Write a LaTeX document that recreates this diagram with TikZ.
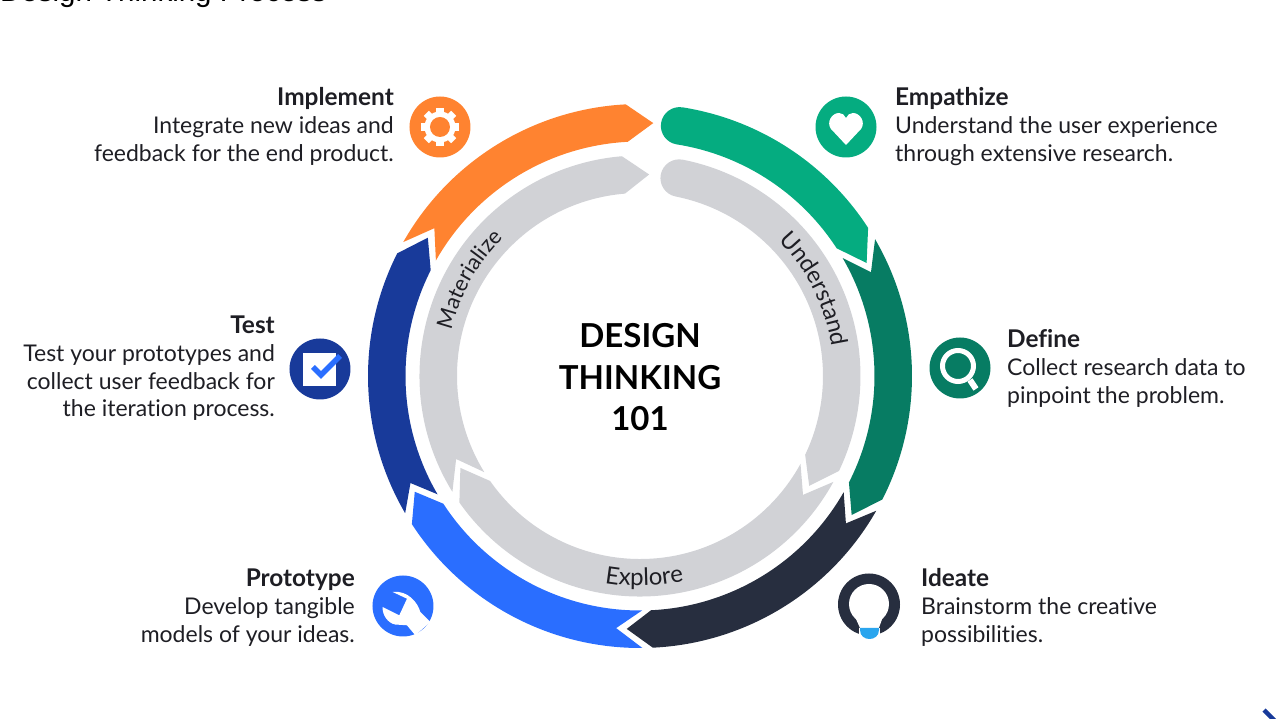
\documentclass[tikz,border=0pt]{standalone}
\usepackage{fontspec}
\usetikzlibrary{decorations.text}
\setmainfont[Ligatures=NoCommon]{Lato}
\newfontfamily\titlefont{Liberation Sans}
\definecolor{cOrange}{HTML}{FF8330}
\definecolor{cGreen}{HTML}{05AC80}
\definecolor{cDeep}{HTML}{077C63}
\definecolor{cDark}{HTML}{272E3F}
\definecolor{cBlue}{HTML}{2A6EFF}
\definecolor{cNavy}{HTML}{183A9A}
\definecolor{cGray}{HTML}{D1D2D6}
\definecolor{cBulb}{HTML}{2AA5EE}
\definecolor{cInk}{HTML}{1E1E24}
\newcommand{\seg}[7]{% colour, Ro, Ri, tail, notch, shoulder, tip
  \pgfmathsetmacro{\Rm}{(#2+#3)/2}
  \fill[#1] (#4:#2pt) arc[start angle=#4,end angle=#6,radius=#2pt] -- (#7:\Rm pt) -- (#6:#3pt)
    arc[start angle=#6,end angle=#4,radius=#3pt] -- (#5:\Rm pt) -- cycle;}
\newcommand{\capseg}[6]{% colour, Ro, Ri, start, shoulder, tip
  \pgfmathsetmacro{\Rm}{(#2+#3)/2}
  \pgfmathsetmacro{\Rc}{(#2-#3)/2}
  \pgfmathsetmacro{\Ab}{#4+180}
  \fill[#1] (#4:#2pt) arc[start angle=#4,end angle=#5,radius=#2pt] -- (#6:\Rm pt) -- (#5:#3pt)
    arc[start angle=#5,end angle=#4,radius=#3pt]
    arc[start angle=\Ab,end angle=#4,radius=\Rc pt] -- cycle;}
\newcommand{\curveU}{\fontsize{23.5}{24}\selectfont\color{cInk}}
\newcommand{\curveM}{\fontsize{22}{24}\selectfont\color{cInk}}
\newcommand{\curveE}{\fontsize{24}{24}\selectfont\color{cInk}}
\tikzset{
  head/.style={font=\fontsize{24.4}{27}\selectfont\bfseries,text=cInk,inner sep=0pt},
  descR/.style={font=\fontsize{23}{27.6}\selectfont,text=cInk,inner sep=0pt,align=right,anchor=north east},
  descL/.style={font=\fontsize{23}{27.6}\selectfont,text=cInk,inner sep=0pt,align=left,anchor=north west},
  big/.style={font=\fontsize{33}{42}\selectfont\bfseries,text=black,inner sep=0pt,align=center},
  curve/.style={decorate},
}
\begin{document}
\begin{tikzpicture}[x=1pt,y=1pt]
\useasboundingbox (-640pt,-343pt) rectangle (640pt,376pt);
\clip (-640pt,-343pt) rectangle (640pt,376pt);
% gray ring
\capseg{cGray}{220.5}{183}{78.8}{-25.5}{-33}
\seg{cGray}{220.5}{183}{-28.7}{-36.1}{-145}{-152.9}
\seg{cGray}{220.5}{183}{-148.3}{-155.7}{-265.3}{-272.6}
% colour ring
\seg{cOrange}{272}{234.5}{150.5}{144.3}{93}{87}
\capseg{cGreen}{272}{234.5}{81}{33}{26.5}
\seg{cDeep}{272}{234.5}{30.2}{24.2}{-27}{-33.3}
\seg{cDark}{272}{234.5}{-29.7}{-35.6}{-87.3}{-93}
\seg{cBlue}{272}{234.5}{-89.5}{-95.4}{-147}{-152.8}
\seg{cNavy}{272}{234.5}{-149.7}{-155}{-206.8}{-213.1}
% ring labels
\path[curve,decoration={text along path,text align=center,text={|\curveU|Understand}}]
  (59:194pt) arc[start angle=59,end angle=-6,radius=194pt];
\path[curve,decoration={text along path,text align=center,text={|\curveM|Materialize}}]
  (185.5:194pt) arc[start angle=185.5,end angle=115.5,radius=194pt];
\path[curve,decoration={text along path,text align=center,text={|\curveE|Explore}}]
  (-118.8:210pt) arc[start angle=-118.8,end angle=-58.8,radius=210pt];
\begin{scope}[x=1pt,y=-1pt,shift={(-640,-376)}]
% page furniture
\node[font=\titlefont\fontsize{29.5}{29.5}\selectfont,text=black,inner sep=0pt,anchor=base west] (pagetitle) at (0,1.5) {Design Thinking Process};
\coordinate (chevA) at (1264,710);
\coordinate (chevB) at (1282,728);
\draw[cNavy,line width=4.5pt] (chevA) -- (chevB);
% centre
\node[big,anchor=base] (centreA) at (640,348) {DESIGN};
\node[big,anchor=base] (centreB) at (640,390) {THINKING};
\node[big,anchor=base] (centreC) at (640,431) {101};
% implement
\node[head,anchor=base east] (implementH) at (394,106) {Implement};
\node[descR] (implementD) at (394,116.6) {Integrate new ideas and\\feedback for the end product.};
\fill[cOrange] (440,127) circle (30.5);
\foreach \a in {0,45,...,315}{\fill[white,shift={(440,127)},rotate=\a] (-3.6,-19.3) rectangle (3.6,-10);}
\fill[white] (440,127) circle (15.5);
\fill[cOrange] (440,127) circle (10);
% empathize
\node[head,anchor=base west] (empathizeH) at (895,106) {Empathize};
\node[descL] (empathizeD) at (895,116.6) {Understand the user experience\\through extensive research.};
\fill[cGreen] (846,127) circle (30.5);
\fill[white] (846,145) -- (831,129) .. controls (826,122) and (832,113) .. (839,113)
  .. controls (842,113) and (845,115) .. (846,118) .. controls (847,115) and (850,113) .. (853,113)
  .. controls (860,113) and (866,122) .. (861,129) -- cycle;
% define
\node[head,anchor=base west] (defineH) at (1007,348) {Define};
\node[descL] (defineD) at (1007,358.6) {Collect research data to\\pinpoint the problem.};
\fill[cDeep] (960,368) circle (30.5);
\draw[white,line width=5pt] (958,366) circle (15.5);
\draw[white,line width=6pt] (970,380) -- (976,389);
% ideate
\node[head,anchor=base west] (ideateH) at (921,587) {Ideate};
\node[descL] (ideateD) at (921,597.6) {Brainstorm the creative\\possibilities.};
\fill[cDark] (869,604.5) circle (31);
\fill[white] (869,604) circle (20);
\fill[white] (855.5,618) -- (882.5,618) -- (878.5,629) -- (860.5,629) -- cycle;
\fill[white] (859,628) rectangle (880,645);
\fill[cBulb] (860,628) -- (879,628) -- (879,630) .. controls (879,642) and (860,642) .. (860,630) -- cycle;
% prototype
\node[head,anchor=base east] (prototypeH) at (355,587) {Prototype};
\node[descR] (prototypeD) at (355,597.6) {Develop tangible\\models of your ideas.};
\fill[cBlue] (403,606) circle (30.5);
\fill[white] (392.7,592) -- (407,598.7) -- (399.3,615.3) -- (382.7,607)
  .. controls (382,615) and (388,623) .. (395,624.5) -- (407,625.3) -- (415.3,635.3) -- (430.3,622) -- (420.3,612)
  .. controls (418,603) and (408,590) .. (392.7,592) -- cycle;
% test
\node[head,anchor=base east] (testH) at (275,334) {Test};
\node[descR] (testD) at (275,344.6) {Test your prototypes and\\collect user feedback for\\the iteration process.};
\fill[cNavy] (320,369) circle (30.5);
\fill[white] (303,353) rectangle (336,386);
\draw[cBlue,line width=5.5pt] (313,367) -- (321,375) -- (340,356);
\end{scope}
\end{tikzpicture}
\end{document}
